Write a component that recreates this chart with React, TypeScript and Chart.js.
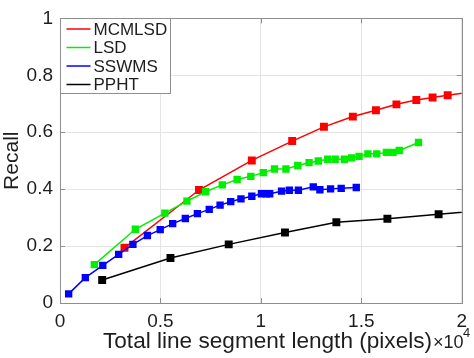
import React, { useEffect, useRef } from "react";
import { Chart, registerables } from "chart.js";

Chart.register(...registerables);

// x values in units of 1e4 pixels
const seriesNames = ["MCMLSD", "LSD", "SSWMS", "PPHT"];
const seriesColors = ["#ff0000", "#00ee00", "#0000ff", "#000000"];

const mcmlsdX = [0.321, 0.692, 0.955, 1.156, 1.314, 1.458, 1.573, 1.675, 1.774, 1.855, 1.93, 2.08];
const mcmlsdY = [0.194, 0.397, 0.501, 0.569, 0.619, 0.655, 0.677, 0.698, 0.713, 0.722, 0.73, 0.745];

const lsdX = [0.171, 0.375, 0.522, 0.632, 0.725, 0.808, 0.882, 0.95, 1.012, 1.068, 1.125, 1.184, 1.24, 1.286, 1.333, 1.37, 1.416, 1.452, 1.489, 1.533, 1.577, 1.625, 1.658, 1.689, 1.785];
const lsdY = [0.135, 0.259, 0.316, 0.358, 0.391, 0.415, 0.434, 0.445, 0.458, 0.471, 0.471, 0.483, 0.493, 0.499, 0.505, 0.505, 0.505, 0.51, 0.515, 0.524, 0.524, 0.529, 0.529, 0.536, 0.564];

const sswmsX = [0.043, 0.126, 0.213, 0.292, 0.363, 0.435, 0.499, 0.561, 0.624, 0.684, 0.743, 0.797, 0.85, 0.901, 0.955, 1.003, 1.027, 1.044, 1.103, 1.142, 1.187, 1.261, 1.294, 1.347, 1.4, 1.475];
const sswmsY = [0.032, 0.089, 0.132, 0.171, 0.206, 0.237, 0.258, 0.279, 0.297, 0.314, 0.329, 0.344, 0.356, 0.366, 0.375, 0.384, 0.384, 0.384, 0.393, 0.396, 0.396, 0.408, 0.398, 0.401, 0.403, 0.406];

const pphtX = [0.21, 0.55, 0.84, 1.12, 1.376, 1.63, 1.885, 2.1];
const pphtY = [0.081, 0.158, 0.206, 0.248, 0.284, 0.296, 0.312, 0.325];

const xTickValues = [0, 0.5, 1, 1.5, 2];
const xTickLabels = ["0", "0.5", "1", "1.5", "2"];
const yTickValues = [0, 0.2, 0.4, 0.6, 0.8, 1];
const yTickLabels = ["0", "0.2", "0.4", "0.6", "0.8", "1"];
const xTitle = "Total line segment length (pixels)";
const yTitle = "Recall";

const FONT = '"Liberation Sans", Arial, Helvetica, sans-serif';
const TEXT = "#1e1e1e";
const BOX = "#8f8f8f";

const toPts = (xs: number[], ys: number[]) => xs.map((x, i) => ({ x, y: ys[i] }));

const decorPlugin = {
  id: "decor",
  afterDatasetsDraw(chart: any) {
    const { ctx, chartArea: a } = chart;
    const xs = chart.scales.x;
    const ys = chart.scales.y;
    ctx.save();
    ctx.strokeStyle = BOX;
    ctx.lineWidth = 1;
    ctx.strokeRect(Math.round(a.left) + 0.5, Math.round(a.top) + 0.5, Math.round(a.right - a.left), Math.round(a.bottom - a.top));
    const tl = 5;
    ctx.beginPath();
    xTickValues.forEach((v) => {
      const px = Math.round(xs.getPixelForValue(v)) + 0.5;
      ctx.moveTo(px, a.bottom);
      ctx.lineTo(px, a.bottom - tl);
      ctx.moveTo(px, a.top);
      ctx.lineTo(px, a.top + tl);
    });
    yTickValues.forEach((v) => {
      const py = Math.round(ys.getPixelForValue(v)) + 0.5;
      ctx.moveTo(a.left, py);
      ctx.lineTo(a.left + tl, py);
      ctx.moveTo(a.right, py);
      ctx.lineTo(a.right - tl, py);
    });
    ctx.stroke();
    ctx.restore();
  },
  afterDraw(chart: any) {
    const { ctx, chartArea: a } = chart;
    ctx.save();
    // legend
    const lx = Math.round(a.left) + 0.5;
    const ly = Math.round(a.top) + 0.5;
    const lw = 110;
    const lh = 75;
    ctx.fillStyle = "#ffffff";
    ctx.fillRect(lx, ly, lw, lh);
    ctx.strokeStyle = BOX;
    ctx.lineWidth = 1;
    ctx.strokeRect(lx, ly, lw, lh);
    ctx.font = `17px ${FONT}`;
    ctx.textBaseline = "middle";
    ctx.textAlign = "left";
    seriesNames.forEach((name, i) => {
      const y = ly + 10.5 + i * 18.5;
      ctx.strokeStyle = seriesColors[i];
      ctx.lineWidth = 1.5;
      ctx.beginPath();
      ctx.moveTo(lx + 6, y);
      ctx.lineTo(lx + 30, y);
      ctx.stroke();
      ctx.fillStyle = TEXT;
      ctx.fillText(name, lx + 33, y + 1);
    });
    // x title
    ctx.fillStyle = TEXT;
    ctx.font = `22.6px ${FONT}`;
    ctx.textBaseline = "alphabetic";
    ctx.textAlign = "left";
    ctx.fillText(xTitle, 103, 348);
    // exponent
    ctx.font = `18px ${FONT}`;
    ctx.fillText("\u00d710", 433, 348);
    ctx.font = `13px ${FONT}`;
    ctx.fillText("4", 463, 337);
    // y title
    ctx.font = `21px ${FONT}`;
    ctx.textAlign = "center";
    ctx.translate(18, (a.top + a.bottom) / 2);
    ctx.rotate(-Math.PI / 2);
    ctx.fillText(yTitle, 0, 0);
    ctx.restore();
  },
};

export default function App() {
  const ref = useRef<HTMLCanvasElement | null>(null);
  useEffect(() => {
    document.body.style.margin = "0";
    if (!ref.current) return;
    const mk = (i: number, xs: number[], ys: number[], r: number, order: number) => ({
      label: seriesNames[i],
      data: toPts(xs, ys),
      borderColor: seriesColors[i],
      backgroundColor: seriesColors[i],
      pointBackgroundColor: seriesColors[i],
      pointBorderColor: seriesColors[i],
      pointStyle: "rect",
      pointRadius: r,
      pointBorderWidth: 0,
      borderWidth: 1.5,
      tension: 0,
      fill: false,
      clip: 0,
      order,
    });
    const chart = new Chart(ref.current, {
      type: "line",
      data: {
        datasets: [
          mk(0, mcmlsdX, mcmlsdY, 5.6, 4),
          mk(1, lsdX, lsdY, 5.2, 3),
          mk(2, sswmsX, sswmsY, 5.2, 2),
          mk(3, pphtX, pphtY, 5.6, 1),
        ] as any,
      },
      options: {
        animation: false,
        responsive: false,
        events: [],
        layout: { padding: { left: 0, right: 6, top: 15, bottom: 0 } },
        plugins: { legend: { display: false }, tooltip: { enabled: false } },
        scales: {
          x: {
            type: "linear",
            min: 0,
            max: 2,
            afterBuildTicks: (s: any) => {
              s.ticks = xTickValues.map((v) => ({ value: v }));
            },
            afterFit: (s: any) => {
              s.height = 55;
            },
            ticks: {
              padding: 7,
              color: TEXT,
              font: { family: FONT, size: 19 },
              maxRotation: 0,
              autoSkip: false,
              callback: (_v: any, i: number) => xTickLabels[i],
            },
            grid: { color: "#e4e4e4", drawTicks: false },
            border: { display: false },
          },
          y: {
            type: "linear",
            min: 0,
            max: 1,
            afterBuildTicks: (s: any) => {
              s.ticks = yTickValues.map((v) => ({ value: v }));
            },
            afterFit: (s: any) => {
              s.width = 60;
            },
            ticks: {
              padding: 7,
              color: TEXT,
              font: { family: FONT, size: 19 },
              callback: (_v: any, i: number) => yTickLabels[i],
            },
            grid: { color: "#e4e4e4", drawTicks: false },
            border: { display: false },
          },
        },
      },
      plugins: [decorPlugin],
    } as any);
    return () => chart.destroy();
  }, []);
  return (
    <div style={{ position: "fixed", left: 0, top: 0, width: 474, height: 358, background: "#fff" }}>
      <canvas ref={ref} width={474} height={358} style={{ display: "block" }} />
    </div>
  );
}
